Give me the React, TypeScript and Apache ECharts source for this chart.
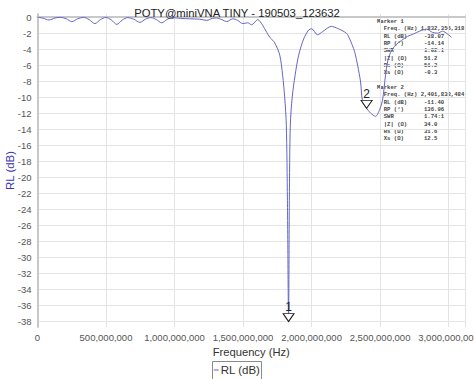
import React, { useEffect, useRef } from "react";
import * as echarts from "echarts";

// Frequency in MHz, return loss in dB
const freqMHz: number[] = [
  0, 40, 84, 128, 168, 210, 251, 293, 335, 377, 419, 459, 499, 539, 579, 619, 659, 703, 747, 787,
  827, 867, 907, 944, 980, 1046, 1111, 1184, 1235, 1275, 1308, 1345, 1381, 1425, 1461, 1498, 1534,
  1563, 1607, 1643, 1673, 1695, 1731, 1768, 1789, 1804, 1816, 1824, 1832.356318, 1838, 1845, 1859,
  1880, 1906, 1943, 1979, 2001, 2044, 2081, 2144, 2190, 2254, 2278, 2314, 2336, 2358, 2373,
  2401.838484, 2431, 2467, 2496, 2518, 2540, 2555, 2577, 2613, 2657, 2701, 2744, 2788, 2839, 2883,
  2919, 2956, 2992, 3021,
];
const rlDb: number[] = [
  0, -0.12, -0.35, -0.1, -0.02, -0.2, -0.55, -0.2, -0.02, -0.3, -0.8, -0.3, -0.03, -0.35, -0.9,
  -0.35, -0.05, -0.25, -0.65, -0.25, -0.05, -0.3, -0.7, -0.3, -0.05, -0.15, -0.2, -0.25, -0.4,
  -0.15, -0.1, -0.3, -0.55, -0.2, -0.4, -0.8, -0.7, -0.95, -0.3, -1.0, -1.9, -2.5, -3.2, -4.75,
  -7.25, -10, -13.5, -22.9, -38.07, -22.9, -13.5, -10, -7.25, -4.75, -2.7, -1.6, -1.45, -2.2, -1.8,
  -1.15, -1.4, -2.0, -2.7, -4.3, -6.0, -8.1, -10.6, -11.4, -12.0, -12.4, -11.6, -10.4, -7.25, -5.6,
  -4.4, -3.5, -2.9, -2.4, -2.1, -1.75, -1.5, -1.9, -2.0, -1.75, -2.1, -2.5,
];

const yTicks: number[] = [
  0, -2, -4, -6, -8, -10, -12, -14, -16, -18, -20, -22, -24, -26, -28, -30, -32, -34, -36, -38,
];
const xTicks: number[] = [0, 500000000, 1000000000, 1500000000, 2000000000, 2500000000, 3000000000];
const xMax = 3120000000;
const yMin = -38.75;
const yMax = 0.4;

const markers = [
  { name: "1", freq: 1832356318, rl: -38.07 },
  { name: "2", freq: 2401838484, rl: -11.4 },
];

const marker1Lines: string[] = [
  "Marker 1",
  "  Freq. (Hz) 1,832,356,318",
  "  RL (dB)     -38.07",
  "  RP (°)      -14.14",
  "  SWR         1.02:1",
  "  |Z| (Ω)     51.2",
  "  Rs (Ω)      51.2",
  "  Xs (Ω)      -0.3",
];
const marker2Lines: string[] = [
  "Marker 2",
  "  Freq. (Hz) 2,401,838,484",
  "  RL (dB)     -11.40",
  "  RP (°)      136.96",
  "  SWR         1.74:1",
  "  |Z| (Ω)     34.0",
  "  Rs (Ω)      31.6",
  "  Xs (Ω)      12.5",
];

export default function App() {
  const ref = useRef<HTMLDivElement>(null);
  useEffect(() => {
    if (!ref.current) return;
    const chart = echarts.init(ref.current, undefined, { renderer: "svg" });
    const data = freqMHz.map((f, i) => [f * 1e6, rlDb[i]]);
    const fmt = (v: number) => Math.round(v).toLocaleString("en-US");
    const mono = {
      fontFamily: "Liberation Mono",
      fontSize: 5.6,
      fontWeight: "bold" as const,
      fill: "#444",
      lineHeight: 7.3,
    };
    chart.setOption({
      animation: false,
      backgroundColor: "#fff",
      textStyle: { fontFamily: "Liberation Sans" },
      title: {
        text: "POTY@miniVNA TINY - 190503_123632",
        left: "center",
        top: 2,
        textStyle: { fontSize: 11.3, fontWeight: "normal", color: "#222", fontFamily: "Liberation Sans" },
      },
      legend: {
        data: ["RL (dB)"],
        left: "center",
        top: 361,
        padding: [3, 3, 3, 3],
        itemWidth: 5,
        itemHeight: 1,
        itemGap: 0,
        icon: "rect",
        textStyle: { fontSize: 11.5, color: "#333", padding: [0, 0, 0, -3] },
      },
      grid: { left: 37.5, right: 9, top: 14, bottom: 52, containLabel: false, outerBoundsMode: "none" },
      xAxis: {
        type: "value",
        min: 0,
        max: xMax,
        name: "Frequency (Hz)",
        nameLocation: "middle",
        nameGap: 19,
        nameMoveOverlap: false,
        nameTextStyle: { fontSize: 11.2, color: "#333" },
        axisLine: { show: true, lineStyle: { color: "#c8c8c8", width: 2 } },
        axisTick: { show: false, customValues: [...xTicks, xMax] },
        axisLabel: {
          customValues: xTicks,
          formatter: (v: number) => fmt(v),
          fontSize: 9.5,
          color: "#555",
          margin: 5,
          hideOverlap: false,
        },
        splitLine: { show: true, lineStyle: { color: "#e4e4e4", width: 1 } },
      },
      yAxis: {
        type: "value",
        min: yMin,
        max: yMax,
        name: "RL (dB)",
        nameLocation: "middle",
        nameGap: 22,
        nameMoveOverlap: false,
        nameTextStyle: { fontSize: 11.5, color: "#3535b5" },
        axisLine: { show: true, lineStyle: { color: "#c8c8c8", width: 2 } },
        axisTick: { show: false, customValues: yTicks },
        axisLabel: {
          customValues: yTicks,
          fontSize: 9.5,
          color: "#555",
          margin: 6,
        },
        splitLine: { show: true, lineStyle: { color: "#e4e4e4", width: 1 } },
      },
      series: [
        {
          name: "RL (dB)",
          type: "line",
          data,
          showSymbol: false,
          smooth: 0.3,
          color: "#6565c5",
          lineStyle: { width: 1, color: "#6565c5" },
          markPoint: {
            symbol: "triangle",
            symbolRotate: 180,
            symbolSize: [11, 8],
            symbolOffset: [0, "-50%"],
            itemStyle: { color: "#fff", borderColor: "#222", borderWidth: 1 },
            label: {
              show: true,
              position: "top",
              distance: 0,
              fontSize: 12,
              color: "#222",
              formatter: (p: any) => p.name,
            },
            data: markers.map((m) => ({ name: m.name, coord: [m.freq, m.rl] })),
          },
        },
      ],
      graphic: [
        {
          type: "rect",
          shape: { x: 212.5, y: 361.5, width: 49, height: 20 },
          style: { fill: "none", stroke: "#8a8a8a", lineWidth: 1 },
          silent: true,
          z: 0,
        },
        {
          type: "text",
          left: 377,
          top: 18,
          style: { ...mono, text: marker1Lines.join("\n") },
          silent: true,
        },
        {
          type: "text",
          left: 377,
          top: 84,
          style: { ...mono, text: marker2Lines.join("\n") },
          silent: true,
        },
      ],
    });
    return () => chart.dispose();
  }, []);
  return (
    <div
      ref={ref}
      style={{ position: "fixed", left: 0, top: 0, width: 474, height: 379, background: "#fff" }}
    />
  );
}
